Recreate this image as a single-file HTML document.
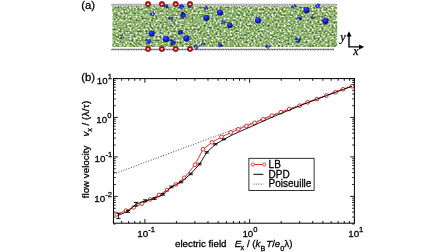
<!DOCTYPE html>
<html lang="en"><head><meta charset="utf-8"><title>Figure</title>
<style>html,body{margin:0;padding:0;background:#fff}body{width:448px;height:252px;overflow:hidden}</style></head>
<body>
<svg width="448" height="252" viewBox="0 0 448 252" style="display:block">
<defs>
<filter id="tex" x="0" y="0" width="100%" height="100%" color-interpolation-filters="sRGB">
<feTurbulence type="fractalNoise" baseFrequency="0.5 0.55" numOctaves="2" seed="7"/>
<feColorMatrix type="matrix" values="2.3 0 0 0 -0.65  2.3 0 0 0 -0.65  2.3 0 0 0 -0.65  0 0 0 0 1"/>
<feComponentTransfer>
<feFuncR type="table" tableValues="0.30 0.43 0.51 0.56 0.64 0.81 0.96"/>
<feFuncG type="table" tableValues="0.42 0.57 0.66 0.71 0.77 0.88 0.98"/>
<feFuncB type="table" tableValues="0.22 0.31 0.38 0.43 0.53 0.74 0.94"/>
</feComponentTransfer>
<feGaussianBlur stdDeviation="0.45"/>
<feComposite in2="SourceGraphic" operator="in"/>
</filter>
<radialGradient id="bs" cx="0.4" cy="0.35" r="0.7">
<stop offset="0" stop-color="#3a4cf0"/><stop offset="0.5" stop-color="#1420c8"/><stop offset="1" stop-color="#060a70"/>
</radialGradient>
</defs>
<rect width="448" height="252" fill="#fff"/>
<g id="panelA">
<rect x="112.4" y="6.2" width="224.8" height="40.8" fill="#84b062" filter="url(#tex)"/>
<path d="M111.3 5.0H337" stroke="#4a4a4a" stroke-width="1.1" stroke-dasharray="1.2 0.44"/>
<path d="M112.2 4.0H337" stroke="#8a8a8a" stroke-width="1.0" stroke-dasharray="0.6 1.04"/>
<path d="M111.3 49.7H334" stroke="#505050" stroke-width="1.2" stroke-dasharray="1.2 0.44"/>
<path d="M112.2 48.6H334" stroke="#909090" stroke-width="1.0" stroke-dasharray="0.6 1.04"/>
<circle cx="151.6" cy="33.5" r="3.1" fill="url(#bs)"/>
<circle cx="166.1" cy="39.1" r="3.2" fill="url(#bs)"/>
<circle cx="186.4" cy="38.4" r="3.1" fill="url(#bs)"/>
<circle cx="220" cy="12.5" r="3.1" fill="url(#bs)"/>
<circle cx="206.3" cy="17.8" r="3.1" fill="url(#bs)"/>
<circle cx="229.8" cy="25.2" r="2.8" fill="url(#bs)"/>
<circle cx="258" cy="20.4" r="3.1" fill="url(#bs)"/>
<circle cx="306.5" cy="10.1" r="3.1" fill="url(#bs)"/>
<circle cx="325.4" cy="21.1" r="3.1" fill="url(#bs)"/>
<circle cx="150.8" cy="13.8" r="0.94" fill="#1a24c8"/>
<circle cx="153.3" cy="12.8" r="0.93" fill="#1a24c8"/>
<circle cx="154.2" cy="13.9" r="0.97" fill="#2a38e0"/>
<circle cx="153.4" cy="15.7" r="0.82" fill="#1a24c8"/>
<circle cx="151.2" cy="14.8" r="1.07" fill="#1a24c8"/>
<circle cx="170.9" cy="17.6" r="0.72" fill="#0c1288"/>
<circle cx="172.3" cy="18.2" r="1.14" fill="#2a38e0"/>
<circle cx="171.8" cy="19.8" r="0.92" fill="#1a24c8"/>
<circle cx="169.9" cy="19.1" r="0.77" fill="#1a24c8"/>
<circle cx="169.1" cy="18.4" r="1.09" fill="#0c1288"/>
<circle cx="182.9" cy="15.0" r="1.1" fill="#1a24c8"/>
<circle cx="181.2" cy="15.1" r="1.19" fill="#1a24c8"/>
<circle cx="182.6" cy="13.2" r="1.40" fill="#0c1288"/>
<circle cx="184.6" cy="14.0" r="0.94" fill="#0c1288"/>
<circle cx="185.2" cy="15.8" r="1.18" fill="#1a24c8"/>
<circle cx="183.8" cy="17.0" r="1.00" fill="#1a24c8"/>
<circle cx="182.4" cy="17.0" r="1.43" fill="#1a24c8"/>
<circle cx="166.7" cy="5.0" r="0.85" fill="#2a38e0"/>
<circle cx="167.3" cy="6.1" r="1.01" fill="#1a24c8"/>
<circle cx="167.0" cy="7.1" r="0.98" fill="#0c1288"/>
<circle cx="164.8" cy="6.9" r="0.85" fill="#1a24c8"/>
<circle cx="165.0" cy="5.5" r="1.17" fill="#2a38e0"/>
<circle cx="180.4" cy="6.0" r="1.30" fill="#0c1288"/>
<circle cx="181.7" cy="5.4" r="1.30" fill="#2a38e0"/>
<circle cx="183.1" cy="6.4" r="1.18" fill="#1a24c8"/>
<circle cx="181.7" cy="8.3" r="1.10" fill="#2a38e0"/>
<circle cx="179.7" cy="7.1" r="1.34" fill="#2a38e0"/>
<circle cx="188.6" cy="6.9" r="0.73" fill="#0c1288"/>
<circle cx="188.6" cy="6.1" r="0.81" fill="#1a24c8"/>
<circle cx="190.2" cy="6.7" r="0.70" fill="#0c1288"/>
<circle cx="189.9" cy="7.6" r="0.76" fill="#1a24c8"/>
<circle cx="188.8" cy="7.4" r="0.71" fill="#2a38e0"/>
<circle cx="180.7" cy="32.2" r="1.1" fill="#1a24c8"/>
<circle cx="179.2" cy="31.6" r="1.03" fill="#0c1288"/>
<circle cx="181.5" cy="31.1" r="1.31" fill="#1a24c8"/>
<circle cx="181.9" cy="32.4" r="1.18" fill="#1a24c8"/>
<circle cx="181.4" cy="33.3" r="1.32" fill="#1a24c8"/>
<circle cx="179.2" cy="33.5" r="1.23" fill="#1a24c8"/>
<circle cx="121.3" cy="35.8" r="0.73" fill="#1a24c8"/>
<circle cx="122.5" cy="35.6" r="0.73" fill="#2a38e0"/>
<circle cx="123.5" cy="37.5" r="0.65" fill="#1a24c8"/>
<circle cx="121.3" cy="38.1" r="0.89" fill="#0c1288"/>
<circle cx="148.3" cy="41.9" r="1.1" fill="#1a24c8"/>
<circle cx="149.4" cy="40.1" r="1.05" fill="#1a24c8"/>
<circle cx="150.2" cy="41.9" r="1.35" fill="#2a38e0"/>
<circle cx="149.0" cy="43.3" r="1.09" fill="#2a38e0"/>
<circle cx="147.3" cy="43.1" r="0.96" fill="#2a38e0"/>
<circle cx="147.0" cy="40.1" r="1.43" fill="#2a38e0"/>
<circle cx="172.1" cy="42.3" r="1.1" fill="#1a24c8"/>
<circle cx="174.5" cy="42.6" r="1.29" fill="#0c1288"/>
<circle cx="172.3" cy="44.5" r="1.36" fill="#0c1288"/>
<circle cx="170.9" cy="43.2" r="0.86" fill="#1a24c8"/>
<circle cx="171.0" cy="40.2" r="1.19" fill="#1a24c8"/>
<circle cx="172.8" cy="41.2" r="1.14" fill="#1a24c8"/>
<circle cx="194.5" cy="46.8" r="1.01" fill="#0c1288"/>
<circle cx="196.1" cy="45.2" r="0.97" fill="#1a24c8"/>
<circle cx="197.5" cy="46.9" r="0.97" fill="#1a24c8"/>
<circle cx="196.6" cy="48.4" r="1.16" fill="#1a24c8"/>
<circle cx="201.8" cy="44.0" r="0.86" fill="#1a24c8"/>
<circle cx="202.6" cy="43.0" r="0.73" fill="#2a38e0"/>
<circle cx="204.3" cy="43.7" r="0.90" fill="#1a24c8"/>
<circle cx="203.2" cy="44.6" r="0.75" fill="#1a24c8"/>
<circle cx="204.8" cy="7.8" r="0.85" fill="#2a38e0"/>
<circle cx="206.4" cy="6.4" r="1.01" fill="#1a24c8"/>
<circle cx="207.4" cy="8.5" r="0.88" fill="#1a24c8"/>
<circle cx="205.6" cy="9.1" r="0.85" fill="#1a24c8"/>
<circle cx="221.9" cy="23.2" r="0.89" fill="#1a24c8"/>
<circle cx="222.3" cy="21.3" r="0.89" fill="#2a38e0"/>
<circle cx="224.2" cy="21.6" r="1.18" fill="#2a38e0"/>
<circle cx="224.1" cy="22.9" r="0.97" fill="#1a24c8"/>
<circle cx="220.7" cy="45.7" r="0.86" fill="#0c1288"/>
<circle cx="219.4" cy="46.2" r="1.17" fill="#2a38e0"/>
<circle cx="218.8" cy="44.3" r="0.98" fill="#1a24c8"/>
<circle cx="220.4" cy="43.6" r="0.94" fill="#1a24c8"/>
<circle cx="221.1" cy="44.6" r="0.75" fill="#1a24c8"/>
<circle cx="221.5" cy="45.5" r="1.11" fill="#0c1288"/>
<circle cx="295.5" cy="6.2" r="1.05" fill="#0c1288"/>
<circle cx="293.7" cy="7.9" r="0.72" fill="#1a24c8"/>
<circle cx="292.4" cy="6.6" r="1.17" fill="#1a24c8"/>
<circle cx="294.5" cy="4.9" r="0.79" fill="#1a24c8"/>
<circle cx="300.2" cy="18.4" r="0.84" fill="#2a38e0"/>
<circle cx="299.7" cy="19.2" r="0.94" fill="#2a38e0"/>
<circle cx="298.1" cy="18.5" r="0.65" fill="#2a38e0"/>
<circle cx="298.1" cy="17.3" r="0.73" fill="#2a38e0"/>
<circle cx="299.1" cy="17.4" r="0.92" fill="#1a24c8"/>
<circle cx="311.5" cy="17.1" r="0.94" fill="#1a24c8"/>
<circle cx="312.4" cy="16.0" r="0.62" fill="#0c1288"/>
<circle cx="314.2" cy="17.5" r="0.78" fill="#0c1288"/>
<circle cx="312.6" cy="18.3" r="0.80" fill="#0c1288"/>
<circle cx="317.1" cy="7.2" r="0.80" fill="#0c1288"/>
<circle cx="316.0" cy="5.9" r="1.13" fill="#2a38e0"/>
<circle cx="317.6" cy="4.5" r="1.00" fill="#2a38e0"/>
<circle cx="319.0" cy="4.9" r="1.03" fill="#1a24c8"/>
<circle cx="318.7" cy="6.6" r="1.13" fill="#2a38e0"/>
<circle cx="299.9" cy="18.9" r="0.85" fill="#1a24c8"/>
<circle cx="300.9" cy="17.4" r="0.66" fill="#1a24c8"/>
<circle cx="301.5" cy="18.6" r="0.81" fill="#1a24c8"/>
<circle cx="300.6" cy="19.4" r="0.91" fill="#0c1288"/>
<circle cx="266.7" cy="47.1" r="0.75" fill="#0c1288"/>
<circle cx="266.4" cy="46.4" r="1.07" fill="#0c1288"/>
<circle cx="267.8" cy="45.8" r="0.92" fill="#2a38e0"/>
<circle cx="269.3" cy="46.6" r="1.07" fill="#2a38e0"/>
<circle cx="268.1" cy="48.1" r="0.76" fill="#0c1288"/>
<circle cx="296.4" cy="39.2" r="1.33" fill="#1a24c8"/>
<circle cx="299.7" cy="39.6" r="1.20" fill="#0c1288"/>
<circle cx="298.5" cy="41.5" r="1.19" fill="#0c1288"/>
<circle cx="296.5" cy="41.8" r="1.00" fill="#1a24c8"/>
<circle cx="148" cy="4.1" r="2.75" fill="#aa1212"/>
<ellipse cx="148" cy="4.199999999999999" rx="1.3" ry="0.75" fill="#fff"/>
<circle cx="148" cy="4.1" r="2.75" fill="none" stroke="#7c0c0c" stroke-width="0.4"/>
<circle cx="148" cy="48.9" r="2.75" fill="#aa1212"/>
<ellipse cx="148" cy="49.0" rx="1.3" ry="0.75" fill="#fff"/>
<circle cx="148" cy="48.9" r="2.75" fill="none" stroke="#7c0c0c" stroke-width="0.4"/>
<circle cx="161.9" cy="4.1" r="2.75" fill="#aa1212"/>
<ellipse cx="161.9" cy="4.199999999999999" rx="1.3" ry="0.75" fill="#fff"/>
<circle cx="161.9" cy="4.1" r="2.75" fill="none" stroke="#7c0c0c" stroke-width="0.4"/>
<circle cx="161.9" cy="48.9" r="2.75" fill="#aa1212"/>
<ellipse cx="161.9" cy="49.0" rx="1.3" ry="0.75" fill="#fff"/>
<circle cx="161.9" cy="48.9" r="2.75" fill="none" stroke="#7c0c0c" stroke-width="0.4"/>
<circle cx="175.7" cy="4.1" r="2.75" fill="#aa1212"/>
<ellipse cx="175.7" cy="4.199999999999999" rx="1.3" ry="0.75" fill="#fff"/>
<circle cx="175.7" cy="4.1" r="2.75" fill="none" stroke="#7c0c0c" stroke-width="0.4"/>
<circle cx="175.7" cy="48.9" r="2.75" fill="#aa1212"/>
<ellipse cx="175.7" cy="49.0" rx="1.3" ry="0.75" fill="#fff"/>
<circle cx="175.7" cy="48.9" r="2.75" fill="none" stroke="#7c0c0c" stroke-width="0.4"/>
<circle cx="190" cy="4.1" r="2.75" fill="#aa1212"/>
<ellipse cx="190" cy="4.199999999999999" rx="1.3" ry="0.75" fill="#fff"/>
<circle cx="190" cy="4.1" r="2.75" fill="none" stroke="#7c0c0c" stroke-width="0.4"/>
<circle cx="190" cy="48.9" r="2.75" fill="#aa1212"/>
<ellipse cx="190" cy="49.0" rx="1.3" ry="0.75" fill="#fff"/>
<circle cx="190" cy="48.9" r="2.75" fill="none" stroke="#7c0c0c" stroke-width="0.4"/>
<path d="M349 34V46.9H361" fill="none" stroke="#000" stroke-width="1.4"/>
<path d="M349 31.2L351.5 36.4H346.5Z" fill="#000"/>
<path d="M364.2 46.9L359 44.4V49.4Z" fill="#000"/>
<text x="340.2" y="41.4" font-family="Liberation Serif, Times New Roman, serif" font-style="italic" stroke="#000" stroke-width="0.25" font-size="12">y</text>
<text x="353.2" y="55.1" font-family="Liberation Serif, Times New Roman, serif" font-style="italic" stroke="#000" stroke-width="0.25" font-size="12">x</text>
<text x="81.2" y="8.8" font-family="Liberation Sans, Arial, Helvetica, sans-serif" stroke="#000" stroke-width="0.28" font-size="11.4">(a)</text>
</g>
<g id="panelB">
<text x="81.2" y="81.3" font-family="Liberation Sans, Arial, Helvetica, sans-serif" stroke="#000" stroke-width="0.28" font-size="11.4">(b)</text>
<path d="M113.37 223.2v-2.2M113.37 78.6v2.2M121.66 223.2v-2.2M121.66 78.6v2.2M128.67 223.2v-2.2M128.67 78.6v2.2M134.75 223.2v-2.2M134.75 78.6v2.2M140.11 223.2v-2.2M140.11 78.6v2.2M144.90 223.2v-4.2M144.90 78.6v4.2M176.43 223.2v-2.2M176.43 78.6v2.2M194.88 223.2v-2.2M194.88 78.6v2.2M207.97 223.2v-2.2M207.97 78.6v2.2M218.12 223.2v-2.2M218.12 78.6v2.2M226.41 223.2v-2.2M226.41 78.6v2.2M233.42 223.2v-2.2M233.42 78.6v2.2M239.50 223.2v-2.2M239.50 78.6v2.2M244.86 223.2v-2.2M244.86 78.6v2.2M249.65 223.2v-4.2M249.65 78.6v4.2M281.18 223.2v-2.2M281.18 78.6v2.2M299.63 223.2v-2.2M299.63 78.6v2.2M312.72 223.2v-2.2M312.72 78.6v2.2M322.87 223.2v-2.2M322.87 78.6v2.2M331.16 223.2v-2.2M331.16 78.6v2.2M338.17 223.2v-2.2M338.17 78.6v2.2M344.25 223.2v-2.2M344.25 78.6v2.2M349.61 223.2v-2.2M349.61 78.6v2.2M354.40 223.2v-4.2M354.40 78.6v4.2M113.5 224.01h2.2M354.4 224.01h-2.2M113.5 217.05h2.2M354.4 217.05h-2.2M113.5 212.12h2.2M354.4 212.12h-2.2M113.5 208.29h2.2M354.4 208.29h-2.2M113.5 205.16h2.2M354.4 205.16h-2.2M113.5 202.52h2.2M354.4 202.52h-2.2M113.5 200.23h2.2M354.4 200.23h-2.2M113.5 198.21h2.2M354.4 198.21h-2.2M113.5 196.40h4.2M354.4 196.40h-4.2M113.5 184.51h2.2M354.4 184.51h-2.2M113.5 177.55h2.2M354.4 177.55h-2.2M113.5 172.62h2.2M354.4 172.62h-2.2M113.5 168.79h2.2M354.4 168.79h-2.2M113.5 165.66h2.2M354.4 165.66h-2.2M113.5 163.02h2.2M354.4 163.02h-2.2M113.5 160.73h2.2M354.4 160.73h-2.2M113.5 158.71h2.2M354.4 158.71h-2.2M113.5 156.90h4.2M354.4 156.90h-4.2M113.5 145.01h2.2M354.4 145.01h-2.2M113.5 138.05h2.2M354.4 138.05h-2.2M113.5 133.12h2.2M354.4 133.12h-2.2M113.5 129.29h2.2M354.4 129.29h-2.2M113.5 126.16h2.2M354.4 126.16h-2.2M113.5 123.52h2.2M354.4 123.52h-2.2M113.5 121.23h2.2M354.4 121.23h-2.2M113.5 119.21h2.2M354.4 119.21h-2.2M113.5 117.40h4.2M354.4 117.40h-4.2M113.5 105.72h2.2M354.4 105.72h-2.2M113.5 98.89h2.2M354.4 98.89h-2.2M113.5 94.04h2.2M354.4 94.04h-2.2M113.5 90.28h2.2M354.4 90.28h-2.2M113.5 87.21h2.2M354.4 87.21h-2.2M113.5 84.61h2.2M354.4 84.61h-2.2M113.5 82.36h2.2M354.4 82.36h-2.2M113.5 80.38h2.2M354.4 80.38h-2.2M113.5 78.60h4.2M354.4 78.60h-4.2" stroke="#000" stroke-width="0.9" fill="none"/>
<path d="M113.5 174.1L354.4 84.6" stroke="#222" stroke-width="0.85" stroke-dasharray="1 1.65" fill="none"/>
<path d="M116.7 214.3L126 210.6L133.7 207.4L142 203.6L150.2 199.5L159 195L167.1 190L175.9 184.5L184.3 177.8L195 164.8L203 149.3L212.0 142.3L221.5 136.9L230.8 132.5L238.3 129.3L246.4 126L254.6 122.9L263.3 119.3L271.9 115.7L281 112.2L289.2 109.1L299.6 105.7L307.7 102.3L317 99.1L326.4 95.5L335.4 92.3L343 89.3L352 86.25" stroke="#e01818" stroke-width="0.9" fill="none" stroke-linejoin="round"/>
<circle cx="116.7" cy="214.3" r="1.85" fill="#fff" stroke="#e01818" stroke-width="0.9"/>
<circle cx="126" cy="210.6" r="1.85" fill="#fff" stroke="#e01818" stroke-width="0.9"/>
<circle cx="133.7" cy="207.4" r="1.85" fill="#fff" stroke="#e01818" stroke-width="0.9"/>
<circle cx="142" cy="203.6" r="1.85" fill="#fff" stroke="#e01818" stroke-width="0.9"/>
<circle cx="150.2" cy="199.5" r="1.85" fill="#fff" stroke="#e01818" stroke-width="0.9"/>
<circle cx="159" cy="195" r="1.85" fill="#fff" stroke="#e01818" stroke-width="0.9"/>
<circle cx="167.1" cy="190" r="1.85" fill="#fff" stroke="#e01818" stroke-width="0.9"/>
<circle cx="175.9" cy="184.5" r="1.85" fill="#fff" stroke="#e01818" stroke-width="0.9"/>
<circle cx="184.3" cy="177.8" r="1.85" fill="#fff" stroke="#e01818" stroke-width="0.9"/>
<circle cx="195" cy="164.8" r="1.85" fill="#fff" stroke="#e01818" stroke-width="0.9"/>
<circle cx="203" cy="149.3" r="1.85" fill="#fff" stroke="#e01818" stroke-width="0.9"/>
<circle cx="212.0" cy="142.3" r="1.85" fill="#fff" stroke="#e01818" stroke-width="0.9"/>
<circle cx="221.5" cy="136.9" r="1.85" fill="#fff" stroke="#e01818" stroke-width="0.9"/>
<circle cx="230.8" cy="132.5" r="1.85" fill="#fff" stroke="#e01818" stroke-width="0.9"/>
<circle cx="238.3" cy="129.3" r="1.85" fill="#fff" stroke="#e01818" stroke-width="0.9"/>
<circle cx="246.4" cy="126" r="1.85" fill="#fff" stroke="#e01818" stroke-width="0.9"/>
<circle cx="254.6" cy="122.9" r="1.85" fill="#fff" stroke="#e01818" stroke-width="0.9"/>
<circle cx="263.3" cy="119.3" r="1.85" fill="#fff" stroke="#e01818" stroke-width="0.9"/>
<circle cx="271.9" cy="115.7" r="1.85" fill="#fff" stroke="#e01818" stroke-width="0.9"/>
<circle cx="281" cy="112.2" r="1.85" fill="#fff" stroke="#e01818" stroke-width="0.9"/>
<circle cx="289.2" cy="109.1" r="1.85" fill="#fff" stroke="#e01818" stroke-width="0.9"/>
<circle cx="299.6" cy="105.7" r="1.85" fill="#fff" stroke="#e01818" stroke-width="0.9"/>
<circle cx="307.7" cy="102.3" r="1.85" fill="#fff" stroke="#e01818" stroke-width="0.9"/>
<circle cx="317" cy="99.1" r="1.85" fill="#fff" stroke="#e01818" stroke-width="0.9"/>
<circle cx="326.4" cy="95.5" r="1.85" fill="#fff" stroke="#e01818" stroke-width="0.9"/>
<circle cx="335.4" cy="92.3" r="1.85" fill="#fff" stroke="#e01818" stroke-width="0.9"/>
<circle cx="343" cy="89.3" r="1.85" fill="#fff" stroke="#e01818" stroke-width="0.9"/>
<circle cx="352" cy="86.25" r="1.85" fill="#fff" stroke="#e01818" stroke-width="0.9"/>
<path d="M118.4 215.2L128.0 211.4L136.1 204.2L145.2 200.8L154.5 198.6L163 194.4L171.4 186.9L181.2 182L190.7 173.9L199.6 164.1L206.7 152.4L215.4 144.3L224 139.3L233 134.6L242 130.6L251 126.6L260 122.6L269 118.6L278 114.7L287 111L296 107.4L305 103.7L314 100.3L323 96.9L332 93.6L341 90.2L352 86.3" stroke="#000" stroke-width="0.9" fill="none" stroke-linejoin="round"/>
<path d="M118.4 213.30V218.60M116.30000000000001 213.30h4.2M116.30000000000001 218.60h4.2M128.0 210.50V212.30M125.9 210.50h4.2M125.9 212.30h4.2M136.1 202.40V206.00M134.0 202.40h4.2M134.0 206.00h4.2M145.2 199.80V201.80M143.1 199.80h4.2M143.1 201.80h4.2M154.5 197.80V199.40M152.4 197.80h4.2M152.4 199.40h4.2M163 193.60V195.20M160.9 193.60h4.2M160.9 195.20h4.2M171.4 186.10V187.70M169.3 186.10h4.2M169.3 187.70h4.2M181.2 181.20V182.80M179.1 181.20h4.2M179.1 182.80h4.2M190.7 173.10V174.70M188.6 173.10h4.2M188.6 174.70h4.2M199.6 163.30V164.90M197.5 163.30h4.2M197.5 164.90h4.2M206.7 151.70V153.10M204.6 151.70h4.2M204.6 153.10h4.2M215.4 143.70V144.90M213.3 143.70h4.2M213.3 144.90h4.2M224 138.80V139.80M221.9 138.80h4.2M221.9 139.80h4.2" stroke="#000" stroke-width="0.9" fill="none"/>
<rect x="113.5" y="78.6" width="240.89999999999998" height="144.6" fill="none" stroke="#000" stroke-width="1.0"/>
<text x="111.9" y="83.7" font-family="Liberation Sans, Arial, Helvetica, sans-serif" stroke="#000" stroke-width="0.28" font-size="9.8" text-anchor="end">10<tspan font-size="7.6" dy="-5.0">1</tspan></text>
<text x="111.5" y="122.9" font-family="Liberation Sans, Arial, Helvetica, sans-serif" stroke="#000" stroke-width="0.28" font-size="9.8" text-anchor="end">10<tspan font-size="7.6" dy="-5.0">0</tspan></text>
<text x="112.2" y="162.3" font-family="Liberation Sans, Arial, Helvetica, sans-serif" stroke="#000" stroke-width="0.28" font-size="9.8" text-anchor="end">10<tspan font-size="7.6" dy="-5.0">-1</tspan></text>
<text x="112.0" y="201.6" font-family="Liberation Sans, Arial, Helvetica, sans-serif" stroke="#000" stroke-width="0.28" font-size="9.8" text-anchor="end">10<tspan font-size="7.6" dy="-5.0">-2</tspan></text>
<text x="137.35" y="237.4" font-family="Liberation Sans, Arial, Helvetica, sans-serif" stroke="#000" stroke-width="0.28" font-size="9.8">10<tspan font-size="7.6" dy="-5.0">-1</tspan></text>
<text x="242.39999999999998" y="237.4" font-family="Liberation Sans, Arial, Helvetica, sans-serif" stroke="#000" stroke-width="0.28" font-size="9.8">10<tspan font-size="7.6" dy="-5.0">0</tspan></text>
<text x="348.2" y="237.4" font-family="Liberation Sans, Arial, Helvetica, sans-serif" stroke="#000" stroke-width="0.28" font-size="9.8">10<tspan font-size="7.6" dy="-5.0">1</tspan></text>
<text x="175.0" y="247" font-family="Liberation Sans, Arial, Helvetica, sans-serif" stroke="#000" stroke-width="0.28" font-size="9.75">electric field  <tspan x="234.7" font-style="italic">E</tspan><tspan font-size="7.2" dy="3.0" dx="-0.6">x</tspan><tspan dy="-3.0"> / (</tspan><tspan font-style="italic">k</tspan><tspan font-size="7.2" dy="3.6">B</tspan><tspan dy="-3.6" dx="0.9" font-style="italic">T</tspan>/<tspan font-style="italic">e</tspan><tspan font-size="7.2" dy="3.6">0</tspan><tspan dy="-3.6">λ)</tspan></text>
<text transform="translate(89.2 198.2) rotate(-90)" font-family="Liberation Sans, Arial, Helvetica, sans-serif" stroke="#000" stroke-width="0.28" font-size="9.75">flow velocity  <tspan x="61.6" font-style="italic">v</tspan><tspan font-size="7.2" dy="2.8">x</tspan><tspan dy="-2.8"> / (</tspan><tspan dx="0.3">λ</tspan><tspan dx="0.3">/</tspan><tspan dx="0.3">τ</tspan><tspan dx="0.3">)</tspan></text>
<rect x="248.9" y="158.3" width="65.2" height="32.1" fill="#fff" stroke="#000" stroke-width="0.8"/>
<path d="M252.6 164.5H264.6" stroke="#e01818" stroke-width="0.9"/>
<circle cx="252.9" cy="164.5" r="1.6" fill="#fff" stroke="#e01818" stroke-width="0.8"/><circle cx="264.3" cy="164.5" r="1.6" fill="#fff" stroke="#e01818" stroke-width="0.8"/>
<path d="M253.4 174.3H263.4" stroke="#000" stroke-width="1"/>
<path d="M253.4 184.1H263.4" stroke="#222" stroke-width="0.8" stroke-dasharray="1 1.4"/>
<text x="268.6" y="167.9" font-family="Liberation Sans, Arial, Helvetica, sans-serif" stroke="#000" stroke-width="0.28" font-size="10">LB</text>
<text x="268.6" y="177.7" font-family="Liberation Sans, Arial, Helvetica, sans-serif" stroke="#000" stroke-width="0.28" font-size="10">DPD</text>
<text x="268.6" y="187.4" font-family="Liberation Sans, Arial, Helvetica, sans-serif" stroke="#000" stroke-width="0.28" font-size="10">Poiseuille</text>
</g>
</svg>
</body></html>
